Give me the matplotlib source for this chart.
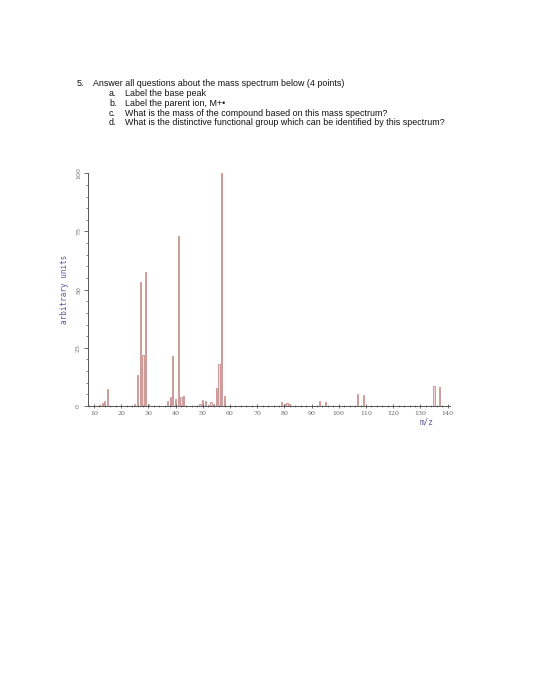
import matplotlib.pyplot as plt
from matplotlib.ticker import MultipleLocator

# question text above the spectrum
question = "Answer all questions about the mass spectrum below (4 points)"
parts = ["a.", "b.", "c.", "d."]
part_texts = [
    "Label the base peak",
    "Label the parent ion, M+\u2022",
    "What is the mass of the compound based on this mass spectrum?",
    "What is the distinctive functional group which can be identified by this spectrum?",
]

# spectrum peaks (m/z, relative intensity)
mz = [12, 13, 14, 15, 25, 26, 27, 28, 29, 30,
      37, 38, 39, 40, 41, 42, 43, 49, 50, 51, 52, 53, 54, 55, 56, 57, 58,
      79, 80, 81, 82, 93, 95, 107, 109, 135, 137]
intensity = [0.5, 1.1, 2.3, 7.2, 1.0, 13.2, 53.3, 22.0, 57.6, 1.0,
             2.2, 3.7, 21.5, 3.1, 73.2, 3.7, 4.2, 1.0, 2.6, 2.2, 0.6, 1.8, 1.0, 7.9, 18.2, 100, 4.4,
             1.6, 0.9, 1.4, 0.8, 2.0, 1.8, 5.1, 4.6, 8.4, 8.3]

fig = plt.figure(figsize=(5.34, 7.0), dpi=100)
fig.patch.set_facecolor("white")

txt = dict(fontsize=6.4, family="Liberation Sans", color="#111111", va="center")
fig.text(76.5 / 534, 1 - 83.5 / 700, "5.", **txt)
fig.text(93 / 534, 1 - 83.5 / 700, question, **txt)
for i, (p, t) in enumerate(zip(parts, part_texts)):
    y = 1 - (94 + i * 9.5) / 700
    fig.text(109 / 534, y, p, **txt)
    fig.text(125 / 534, y, t, **txt)

ax = fig.add_axes([88 / 534, 1 - 406 / 700, (450.3 - 88) / 534, (406 - 173.3) / 700])
ax.bar(mz, intensity, width=0.45, color="#f2d8d8", edgecolor="#c98e8e", linewidth=0.6)

ax.set_xlim(7.8, 141)
ax.set_ylim(0, 100)
ax.xaxis.set_major_locator(MultipleLocator(10))
ax.xaxis.set_minor_locator(MultipleLocator(2))
ax.yaxis.set_major_locator(MultipleLocator(25))
ax.yaxis.set_minor_locator(MultipleLocator(5))
for s in ["top", "right"]:
    ax.spines[s].set_visible(False)
for s in ["left", "bottom"]:
    ax.spines[s].set_color("#555555")
    ax.spines[s].set_linewidth(0.7)
ax.tick_params(axis="both", which="major", length=3, width=0.6, color="#555555",
               labelsize=4.5, labelcolor="#666666", pad=2)
ax.tick_params(axis="both", which="minor", length=1.8, width=0.5, color="#555555")
ax.tick_params(axis="x", which="both", direction="inout")
for lab in ax.get_xticklabels():
    lab.set_family("DejaVu Serif")
for lab in ax.get_yticklabels():
    lab.set_rotation(90)
    lab.set_va("center")
    lab.set_family("DejaVu Serif")

ax.set_ylabel("arbitrary units", fontsize=5.5, family="DejaVu Sans Mono",
              color="#5a5aa0", labelpad=5)
fig.text(427 / 534, 1 - 422 / 700, "m/z", fontsize=5.5, family="DejaVu Sans Mono",
         color="#5a5aa0", ha="center", va="center")

fig.savefig("out.png", dpi=100, facecolor="white")
